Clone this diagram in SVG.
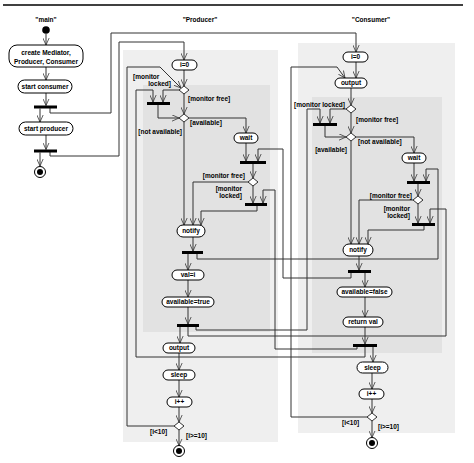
<svg xmlns="http://www.w3.org/2000/svg" width="474" height="463" viewBox="0 0 474 463">
<defs>
<marker id="a" viewBox="0 0 10 10" refX="10" refY="5" markerWidth="7" markerHeight="7" orient="auto" markerUnits="userSpaceOnUse"><path d="M0,0.5 L10,5 L0,9.5" fill="none" stroke="#333" stroke-width="1.1"/></marker>
<style>
.c{fill:none;stroke:#333;stroke-width:1;marker-end:url(#a)}
.l{fill:none;stroke:#333;stroke-width:1}
.n{fill:#fff;stroke:#000;stroke-width:1}
.b{fill:#000}
.d{fill:#fff;stroke:#000;stroke-width:0.8}
text{font-family:"Liberation Sans",Arial,sans-serif;font-weight:bold;font-size:6.5px;fill:#000}
.m{text-anchor:middle}
.e{text-anchor:end}
</style>
</defs>
<rect width="474" height="463" fill="#fff"/>
<line x1="3" y1="5" x2="463" y2="5" stroke="#000" stroke-width="1.6"/>
<g id="regions">
<rect x="123" y="50" width="155" height="392" fill="#efefef"/>
<rect x="143" y="85" width="127" height="247" fill="#e2e2e2"/>
<rect x="298" y="43" width="157" height="390" fill="#efefef"/>
<rect x="312" y="97" width="130" height="256" fill="#e2e2e2"/>
</g>
<g id="titles">
<text class="m" x="46" y="22">"main"</text>
<text class="m" x="200" y="22">"Producer"</text>
<text class="m" x="371" y="22">"Consumer"</text>
</g>
<g id="connectors">
<path class="c" d="M46,34 V45"/>
<path class="c" d="M46,67 V80"/>
<path class="c" d="M46,93 V105.5"/>
<path class="c" d="M40,108.5 V122"/>
<path class="c" d="M46,135 V149.5"/>
<path class="c" d="M40,152.5 V166"/>
<path class="c" d="M50,108 V113 H111 V33 H356 V52"/>
<path class="c" d="M50,152 V156 H119 V42 H184 V60"/>
<!-- producer -->
<path class="c" d="M184,70 V86"/>
<path class="c" d="M184,94 V114"/>
<path class="c" d="M179,90 H163 V102"/>
<path class="c" d="M365,347 V357 H136 V90 H153 V102"/>
<path class="c" d="M158,105 V118 H179"/>
<path class="c" d="M189,118 H246 V133"/>
<path class="c" d="M184,122 V225"/>
<path class="c" d="M246,143 V161"/>
<path class="c" d="M351,273 V278 H283 V149 H258 V161"/>
<path class="c" d="M253,164 V178"/>
<path class="c" d="M248,182 H193 V225"/>
<path class="c" d="M253,186 V203"/>
<path class="c" d="M357,347 V349 H275 V190 H263 V203"/>
<path class="c" d="M257,206 V211 H201 V225"/>
<path class="c" d="M193,237 V251"/>
<path class="c" d="M188,254 V270"/>
<path class="c" d="M197,254 V259 H438 V169 H426 V181"/>
<path class="c" d="M188,280 V297"/>
<path class="c" d="M188,307 V324"/>
<path class="c" d="M180,327 V343"/>
<path class="c" d="M188,327 V336 H446 V209 H430 V223"/>
<path class="c" d="M196,327 V330 H307 V109 H320 V123"/>
<path class="c" d="M179,353 V370"/>
<path class="c" d="M179,380 V397"/>
<path class="c" d="M179,407 V422"/>
<path class="c" d="M174,426 H127 V67 H160 L181,88"/>
<path class="c" d="M179,430 V445.5"/>
<!-- consumer -->
<path class="c" d="M356,62 V78"/>
<path class="c" d="M351,88 V105"/>
<path class="c" d="M346,109 H330 V123"/>
<path class="c" d="M351,113 V133"/>
<path class="c" d="M325,126 V137 H346"/>
<path class="c" d="M356,137 H414 V153"/>
<path class="c" d="M351,141 V244"/>
<path class="c" d="M414,163 V181"/>
<path class="c" d="M418,184 V196"/>
<path class="c" d="M413,200 H359 V244"/>
<path class="c" d="M418,204 V223"/>
<path class="c" d="M424,226 V230 H368 V244"/>
<path class="c" d="M359,256 V270"/>
<path class="c" d="M365,273 V287"/>
<path class="c" d="M365,297 V317"/>
<path class="c" d="M365,327 V344"/>
<path class="c" d="M373,347 V362"/>
<path class="c" d="M372,373 V389"/>
<path class="c" d="M372,399 V413"/>
<path class="c" d="M367,417 H291 V67 H337 L345,78"/>
<path class="c" d="M372,421 V437.5"/>
</g>
<g id="guards">
<text x="133" y="79">[monitor</text>
<text class="e" x="171" y="86">locked]</text>
<text x="188" y="101">[monitor free]</text>
<text x="190" y="125">[available]</text>
<text class="e" x="182" y="134">[not available]</text>
<text class="e" x="245" y="178">[monitor free]</text>
<text class="e" x="242" y="191">[monitor</text>
<text class="e" x="242" y="198">locked]</text>
<text x="150" y="434">[i&lt;10]</text>
<text x="186" y="438">[i&gt;=10]</text>
<text class="e" x="345" y="107">[monitor locked]</text>
<text x="356" y="122">[monitor free]</text>
<text x="358" y="144">[not available]</text>
<text class="e" x="347" y="152">[available]</text>
<text class="e" x="412" y="198">[monitor free]</text>
<text class="e" x="410" y="211">[monitor</text>
<text class="e" x="410" y="218">locked]</text>
<text x="342" y="425">[i&lt;10]</text>
<text x="378" y="429">[i&gt;=10]</text>
</g>
<g id="main-start"><circle cx="46" cy="30" r="3.8" fill="#000"/></g>
<g id="create"><rect class="n" x="9" y="45" width="74" height="22" rx="8"/><text class="m" x="46" y="54.5">create Mediator,</text><text class="m" x="46" y="63.5">Producer, Consumer</text></g>
<g id="start-consumer"><rect class="n" x="18" y="80" width="54" height="13" rx="6.5"/><text class="m" x="45" y="88.8">start consumer</text></g>
<g id="main-fork1"><rect class="b" x="34" y="105.5" width="23" height="3"/></g>
<g id="start-producer"><rect class="n" x="19" y="122" width="54" height="13" rx="6.5"/><text class="m" x="46" y="130.8">start producer</text></g>
<g id="main-fork2"><rect class="b" x="34" y="149.5" width="23" height="3"/></g>
<g id="main-end"><circle class="n" cx="40" cy="172" r="5.5"/><circle cx="40" cy="172" r="3" fill="#000"/></g>
<!-- producer nodes -->
<g id="p-i0"><rect class="n" x="172" y="60" width="25" height="10" rx="5"/><text class="m" x="184.5" y="67.3">i=0</text></g>
<g id="p-dec1"><polygon class="d" points="184,86 189,90 184,94 179,90"/></g>
<g id="p-join-m1"><rect class="b" x="147" y="102" width="23" height="3"/></g>
<g id="p-dec2"><polygon class="d" points="184,114 189,118 184,122 179,118"/></g>
<g id="p-wait"><rect class="n" x="234" y="133" width="24" height="10" rx="5"/><text class="m" x="246" y="140.3">wait</text></g>
<g id="p-join-w"><rect class="b" x="240" y="161" width="26" height="3"/></g>
<g id="p-dec3"><polygon class="d" points="253,178 258,182 253,186 248,182"/></g>
<g id="p-join-m2"><rect class="b" x="245" y="203" width="22" height="3"/></g>
<g id="p-notify"><rect class="n" x="177" y="225" width="28" height="12" rx="6"/><text class="m" x="191" y="233.3">notify</text></g>
<g id="p-fork-n"><rect class="b" x="182" y="251" width="21" height="3"/></g>
<g id="p-val"><rect class="n" x="172" y="270" width="32" height="10" rx="5"/><text class="m" x="188" y="277.3">val=i</text></g>
<g id="p-available"><rect class="n" x="162" y="297" width="52" height="10" rx="5"/><text class="m" x="188" y="304.3">available=true</text></g>
<g id="p-fork-r"><rect class="b" x="177" y="324" width="22" height="3"/></g>
<g id="p-output"><rect class="n" x="163" y="343" width="32" height="10" rx="5"/><text class="m" x="179" y="350.3">output</text></g>
<g id="p-sleep"><rect class="n" x="163" y="370" width="32" height="10" rx="5"/><text class="m" x="179" y="377.3">sleep</text></g>
<g id="p-inc"><rect class="n" x="167" y="397" width="25" height="10" rx="5"/><text class="m" x="179.5" y="404.3">i++</text></g>
<g id="p-dec4"><polygon class="d" points="179,422 184,426 179,430 174,426"/></g>
<g id="p-end"><circle class="n" cx="179" cy="451" r="5.5"/><circle cx="179" cy="451" r="3" fill="#000"/></g>
<!-- consumer nodes -->
<g id="c-i0"><rect class="n" x="343" y="52" width="25" height="10" rx="5"/><text class="m" x="355.5" y="59.3">i=0</text></g>
<g id="c-output"><rect class="n" x="335" y="78" width="32" height="10" rx="5"/><text class="m" x="351" y="85.3">output</text></g>
<g id="c-dec1"><polygon class="d" points="351,105 356,109 351,113 346,109"/></g>
<g id="c-join-m1"><rect class="b" x="313" y="123" width="24" height="3"/></g>
<g id="c-dec2"><polygon class="d" points="351,133 356,137 351,141 346,137"/></g>
<g id="c-wait"><rect class="n" x="402" y="153" width="24" height="10" rx="5"/><text class="m" x="414" y="160.3">wait</text></g>
<g id="c-join-w"><rect class="b" x="407" y="181" width="23" height="3"/></g>
<g id="c-dec3"><polygon class="d" points="418,196 423,200 418,204 413,200"/></g>
<g id="c-join-m2"><rect class="b" x="412" y="223" width="23" height="3"/></g>
<g id="c-notify"><rect class="n" x="343" y="244" width="30" height="12" rx="6"/><text class="m" x="358" y="252.3">notify</text></g>
<g id="c-fork-n"><rect class="b" x="348" y="270" width="23" height="3"/></g>
<g id="c-available"><rect class="n" x="337" y="287" width="55" height="10" rx="5"/><text class="m" x="364.5" y="294.3">available=false</text></g>
<g id="c-return"><rect class="n" x="343" y="317" width="40" height="10" rx="5"/><text class="m" x="363" y="324.3">return val</text></g>
<g id="c-fork-r"><rect class="b" x="353" y="344" width="24" height="3"/></g>
<g id="c-sleep"><rect class="n" x="357" y="362" width="31" height="11" rx="5.5"/><text class="m" x="372.5" y="369.8">sleep</text></g>
<g id="c-inc"><rect class="n" x="359" y="389" width="25" height="10" rx="5"/><text class="m" x="371.5" y="396.3">i++</text></g>
<g id="c-dec4"><polygon class="d" points="372,413 377,417 372,421 367,417"/></g>
<g id="c-end"><circle class="n" cx="372" cy="443" r="5.5"/><circle cx="372" cy="443" r="3" fill="#000"/></g>
</svg>
